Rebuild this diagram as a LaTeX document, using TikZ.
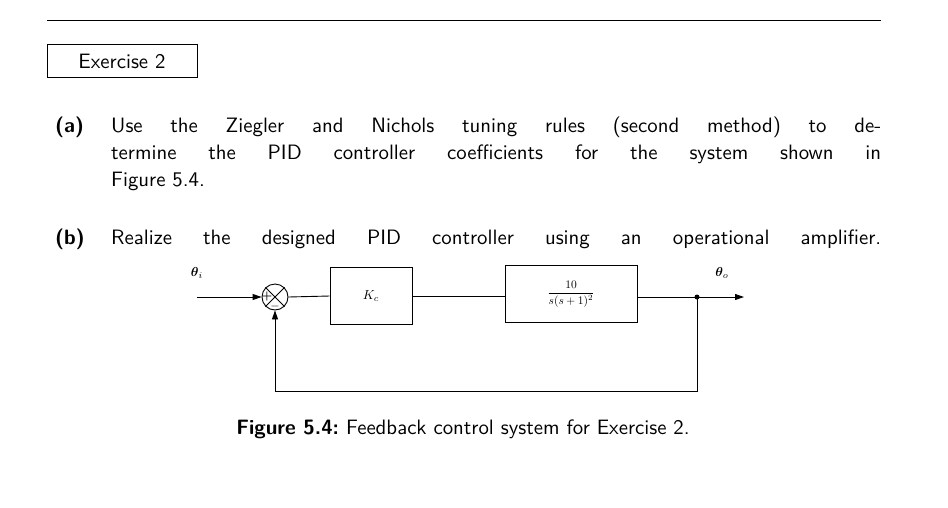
\documentclass[tikz,border=0pt]{standalone}
\usepackage{amsmath}
\usepackage{graphicx}
\usepackage{fontspec}
\usetikzlibrary{arrows.meta}
\newfontfamily\diagfont{Liberation Serif}
\newcommand\BT[1]{\scalebox{2}{\sffamily\fontsize{10.4}{13.5}\selectfont #1}}
\newcommand\SM[2]{\scalebox{#1}{\fontsize{10}{12}\selectfont #2}}
\begin{document}
\begin{tikzpicture}[x=1pt,y=-1pt,
  txt/.style={anchor=base west,inner sep=0pt},
  blk/.style={draw,line width=0.9pt},
  sig/.style={line width=0.9pt},
  arr/.style={sig,-{Triangle[length=9pt,width=6pt]}}]
\useasboundingbox (0,0) rectangle (948,507);
\draw[line width=0.6pt] (47,20) -- (881,20);
\node[draw,line width=0.6pt,minimum width=150pt,minimum height=33pt,inner sep=0pt] (ex) at (122,61) {\BT{Exercise 2}};
\node[txt] (a) at (55,132) {\BT{\bfseries (a)}};
\node[txt] (a1) at (111,132) {\BT{\makebox[385pt][s]{Use the Ziegler and Nichols tuning rules (second method) to de-}}};
\node[txt] (a2) at (111,159) {\BT{\makebox[385pt][s]{termine the PID controller coefficients for the system shown in}}};
\node[txt] (a3) at (111,186) {\BT{Figure 5.4.}};
\node[txt] (b) at (55,244) {\BT{\bfseries (b)}};
\node[txt] (b1) at (111,244) {\BT{\makebox[385pt][s]{Realize the designed PID controller using an operational amplifier.}}};
% diagram
\node[draw,circle,line width=0.9pt,minimum size=26pt,inner sep=0pt] (sum) at (275,297) {};
\draw[sig] (sum.north west) -- (sum.south east) (sum.north east) -- (sum.south west);
\node[inner sep=0pt] (plus) at (267,296) {\SM{1.2}{\textbf{+}}};
\node[inner sep=0pt] (minus) at (275,306) {\SM{1.2}{$-$}};
\node[blk,minimum width=82pt,minimum height=57pt] (kc) at (371,296) {\SM{1.3}{$K_c$}};
\node[blk,minimum width=132pt,minimum height=57pt] (g) at (571,294) {\SM{1.15}{$\dfrac{10}{s(s+1)^2}$}};
\coordinate (in) at (197,297);
\coordinate (out) at (744,297);
\coordinate (br) at (697,297);
\coordinate (c1) at (697,391);
\coordinate (c2) at (275,391);
\draw[arr] (in) -- (sum.west);
\draw[sig] (sum.east) -- (kc.west);
\draw[sig] (kc.east) -- (g.west |- kc.east);
\draw[arr] (g.east |- br) -- (out);
\fill (br) circle (2.5pt);
\draw[arr] (br) -- (c1) -- (c2) -- (sum.south);
\node (ti) at (197,273) {\SM{1.3}{$\boldsymbol{\theta}_i$}};
\node (to) at (722,273) {\SM{1.3}{$\boldsymbol{\theta}_o$}};
\node[anchor=base,inner sep=0pt] (cap) at (463,434) {\BT{\bfseries Figure 5.4:\mdseries\ Feedback control system for Exercise 2.}};
\end{tikzpicture}
\end{document}
